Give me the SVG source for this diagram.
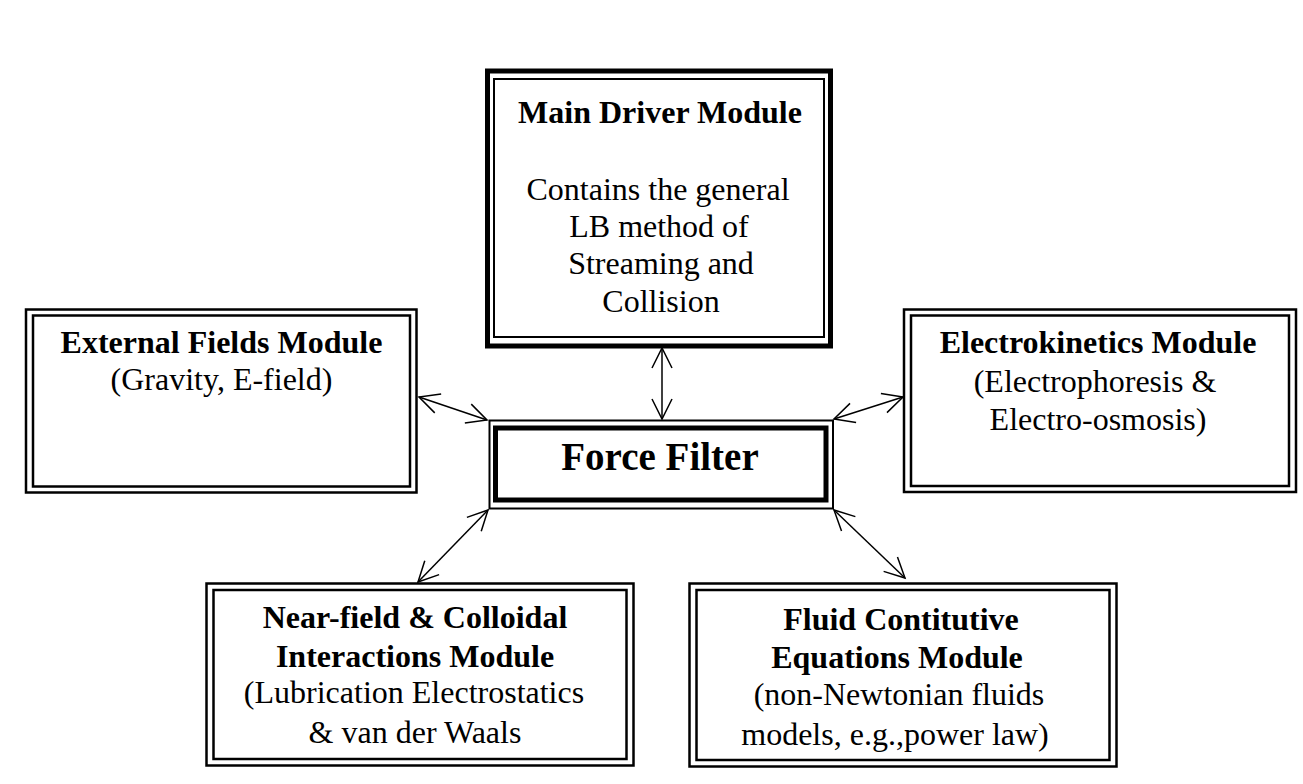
<svg xmlns="http://www.w3.org/2000/svg" width="1303" height="784" viewBox="0 0 1303 784">
<style>
  .box { fill: none; stroke: #000; stroke-width: 2.5; }
  .thick { fill: none; stroke: #000; stroke-width: 5; }
  .thin { fill: none; stroke: #000; stroke-width: 2; }
  text { font-family: "Liberation Serif", "Times New Roman", serif; font-size: 32px; fill: #000; text-anchor: middle; }
  .t { font-weight: bold; }
  .ff { font-weight: bold; font-size: 39px; }
  .conn { stroke: #000; stroke-width: 1.5; fill: none; marker-start: url(#ah); marker-end: url(#ah); }
</style>
<defs>
  <marker id="ah" viewBox="-24 -14 28 28" refX="0" refY="0" markerWidth="28" markerHeight="28" markerUnits="userSpaceOnUse" orient="auto-start-reverse">
    <path d="M-20,-10 L0,0 L-20,10" fill="none" stroke="#000" stroke-width="1.5"/>
  </marker>
</defs>
<rect width="1303" height="784" fill="#fff"/>

<g id="main-driver">
  <rect class="thick" x="487.5" y="71" width="343" height="275"/>
  <rect class="thin" x="494" y="79" width="330" height="258"/>
  <text class="t" x="660" y="123">Main Driver Module</text>
  <text x="658" y="200">Contains the general</text>
  <text x="659" y="237">LB method of</text>
  <text x="661" y="274">Streaming and</text>
  <text x="661" y="312">Collision</text>
</g>

<g id="external-fields">
  <rect class="box" x="26" y="309.5" width="390.5" height="183"/>
  <rect class="box" x="33" y="315.5" width="377" height="171"/>
  <text class="t" x="221.5" y="353">External Fields Module</text>
  <text x="221.5" y="390">(Gravity, E-field)</text>
</g>

<g id="electrokinetics">
  <rect class="box" x="904" y="309.5" width="392" height="182.5"/>
  <rect class="box" x="911" y="315.5" width="378" height="170.5"/>
  <text class="t" x="1098" y="353">Electrokinetics Module</text>
  <text x="1095" y="392">(Electrophoresis &amp;</text>
  <text x="1098" y="430">Electro-osmosis)</text>
</g>

<g id="force-filter">
  <rect class="thin" x="489.5" y="420.5" width="343.5" height="88"/>
  <rect class="thick" x="495.5" y="428" width="330.5" height="72"/>
  <text class="ff" x="660" y="470">Force Filter</text>
</g>

<g id="near-field">
  <rect class="box" x="206.5" y="583.5" width="427" height="182"/>
  <rect class="box" x="213.5" y="590" width="413" height="169"/>
  <text class="t" x="415" y="628">Near-field &amp; Colloidal</text>
  <text class="t" x="415" y="667">Interactions Module</text>
  <text x="414" y="703">(Lubrication Electrostatics</text>
  <text x="415" y="743">&amp; van der Waals</text>
</g>

<g id="fluid-constitutive">
  <rect class="box" x="689.5" y="583.5" width="427" height="183"/>
  <rect class="box" x="696.5" y="590" width="413" height="170"/>
  <text class="t" x="901" y="630">Fluid Contitutive</text>
  <text class="t" x="897" y="668">Equations Module</text>
  <text x="899" y="705">(non-Newtonian fluids</text>
  <text x="895" y="745">models, e.g.,power law)</text>
</g>

<g id="connectors">
  <line class="conn" x1="662" y1="348" x2="662" y2="419"/>
  <line class="conn" x1="419" y1="397" x2="487" y2="420"/>
  <line class="conn" x1="903" y1="397" x2="834" y2="419"/>
  <line class="conn" x1="488" y1="510" x2="418" y2="582"/>
  <line class="conn" x1="834" y1="510" x2="905" y2="578"/>
</g>
</svg>
